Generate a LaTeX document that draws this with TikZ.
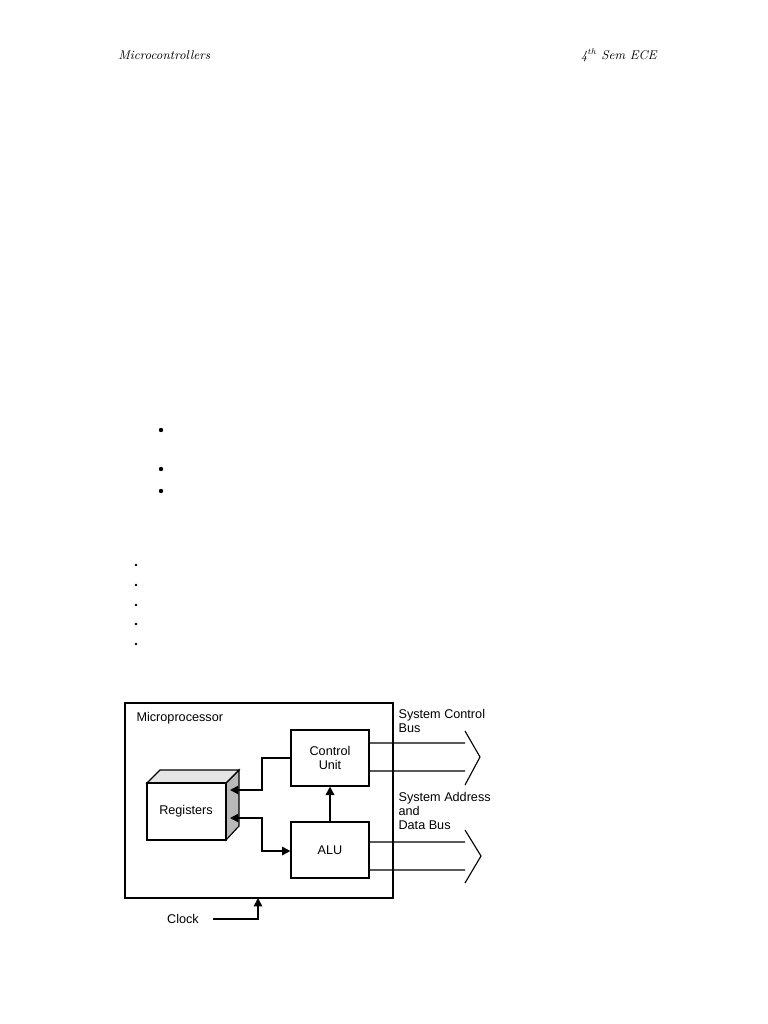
\documentclass[tikz,border=0pt]{standalone}
\usepackage{fontspec}
\newfontfamily\arial{Liberation Sans}
\usetikzlibrary{arrows.meta}
\begin{document}
\begin{tikzpicture}[x=0.025cm,y=-0.025cm,line width=0.8pt,
  font=\arial\fontsize{9}{10}\selectfont]
\tikzstyle{blk} = [draw, minimum width=78*0.025cm, minimum height=56*0.025cm, align=center]
\tikzstyle{lbl} = [anchor=west, align=left, inner sep=0pt]
\useasboundingbox[fill=white] (0,0) rectangle (768,1024);
% header
\node[anchor=west, font=\itshape\small] (hl) at (113,55) {Microcontrollers};
\node[anchor=east, font=\itshape\small] (hr) at (662,55) {4\textsuperscript{th} Sem ECE};
% bullets
\foreach \y in {430,469,491} \fill (161,\y) circle (2.2);
\foreach \y in {565,585,605,624,644} \fill (136,\y) circle (1.3);
% outer box
\draw (125,703) rectangle (393,898);
\node[lbl] (mp) at (136,718) {Microprocessor};
\node[blk] (cu) at (330,758) {Control\\Unit};
\node[blk] (alu) at (330,850) {ALU};
% registers cube
\draw[fill=gray!55] (226,783) -- (239,770) -- (239,826) -- (226,840) -- cycle;
\draw[fill=gray!20] (147,783) -- (160,770) -- (239,770) -- (226,783) -- cycle;
\draw[fill=white] (147,783) rectangle (226,840);
\node (reg) at (186,811) {Registers};
\coordinate (r1) at (230,790);
\coordinate (r2) at (230,818);
% connectors
\draw[-{Triangle[length=6pt,width=6pt]}, line width=1.3pt] (cu.west) -- (262,758) -- (262,790) -- (r1);
\draw[{Triangle[length=6pt,width=6pt]}-{Triangle[length=6pt,width=6pt]}, line width=1.3pt] (r2) -- (262,818) -- (262,851) -- (alu.west |- 0,851);
\draw[-{Triangle[length=6pt,width=6pt]}, line width=1.3pt] (alu.north) -- (cu.south);
% buses
\draw (369,743) -- (465,743) (465,731) -- (480,757) -- (465,785) (465,771) -- (369,771);
\draw (369,842) -- (465,842) (465,830) -- (481,856) -- (465,883) (465,870) -- (369,870);
\node[lbl] (scb) at (398,721) {System Control\\Bus};
\node[lbl] (sab) at (398,811) {System Address\\and\\Data Bus};
% clock
\node (clk) at (183,919) {Clock};
\draw[-{Triangle[length=6pt,width=6pt]}, line width=1.3pt] (213,919) -- (258,919) -- (258,898);
\end{tikzpicture}
\end{document}
